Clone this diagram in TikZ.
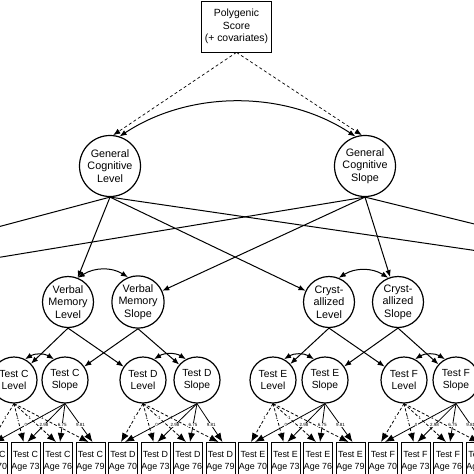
\documentclass[tikz,border=0pt]{standalone}
\usepackage{fontspec}
\setmainfont{Liberation Sans}
\usetikzlibrary{arrows.meta}
\begin{document}
\begin{tikzpicture}[x=1pt,y=-1pt,
  latA/.style={draw, circle, line width=1.2pt, minimum size=61pt, inner sep=0pt, align=center, font=\fontsize{10.8}{12.5}\selectfont},
  latB/.style={latA, minimum size=51pt},
  latC/.style={latA, minimum size=46pt, font=\fontsize{10.3}{12.5}\selectfont},
  obs/.style={draw, line width=1pt, minimum width=29pt, minimum height=38pt, inner sep=0pt, anchor=north, align=center, font=\fontsize{8.9}{11.8}\selectfont},
  scorebox/.style={draw, line width=0.8pt, minimum width=70pt, minimum height=51pt, inner sep=0pt, align=center, font=\fontsize{10.4}{12.5}\selectfont},
  ar/.style={line width=1pt, -{Latex[length=7pt,width=5.5pt]}},
  plainline/.style={line width=1pt},
  dar/.style={line width=0.7pt, dash pattern=on 3pt off 2.5pt, -{Latex[length=7pt,width=5.5pt]}},
  dbl/.style={line width=1pt, {Latex[length=7pt,width=5.5pt]}-{Latex[length=7pt,width=5.5pt]}},
  lo/.style={line width=0.8pt, dash pattern=on 3pt off 2pt, -{Latex[length=9pt,width=7pt]}},
  so/.style={line width=0.8pt, -{Latex[length=9pt,width=7pt]}},
  lab/.style={font=\fontsize{4.5}{5}\selectfont, fill=white, inner sep=0.3pt}
]
\useasboundingbox (0,0) rectangle (474,474);
\clip (0,0) rectangle (474,474);

% top
\node[scorebox] (score) at (236.5,26.5) {Polygenic\\Score\\(+ covariates)};
\node[latA] (gcl) at (110,166) {General\\Cognitive\\Level};
\node[latA] (gcs) at (365,166) {General\\Cognitive\\Slope};

% second level
\node[latB] (vml) at (68,302) {Verbal\\Memory\\Level};
\node[latB] (vms) at (138,302) {Verbal\\Memory\\Slope};
\node[latB] (cl) at (329,302) {Cryst-\\allized\\Level};
\node[latB] (cs) at (398,302) {Cryst-\\allized\\Slope};
\coordinate (offLl) at (-190,277);
\coordinate (offLs) at (-120,277);
\coordinate (offRl) at (656,277);
\coordinate (offRs) at (690,277);

% third level
\node[latC] (tcl) at (14,380) {Test C\\Level};
\node[latC] (tcs) at (65,380) {Test C\\Slope};
\node[latC] (tdl) at (143,380) {Test D\\Level};
\node[latC] (tds) at (197,380) {Test D\\Slope};
\node[latC] (tel) at (273,380) {Test E\\Level};
\node[latC] (tes) at (325,380) {Test E\\Slope};
\node[latC] (tfl) at (404,380) {Test F\\Level};
\node[latC] (tfs) at (456,380) {Test F\\Slope};

% observed boxes
\foreach \k/\t/\g in {0/C/70,1/C/73,2/C/76,3/C/79,4/D/70,5/D/73,6/D/76,7/D/79,8/E/70,9/E/73,10/E/76,11/E/79,12/F/70,13/F/73,14/F/76,15/F/79}{
  \node[obs] (b\k) at ({-7+32.5*\k},442) {Test \t\\Age \g};
}

% top paths
\draw[dar] (score.south) -- (gcl.84);
\draw[dar] (score.south) -- (gcs.96);
\draw[dbl] (gcl.72) .. controls (190,90) and (285,90) .. (gcs.108);

\draw[ar] (gcl.south) -- (vml);
\draw[ar] (gcl.south) -- (cl);
\draw[plainline] (gcl.south) -- (offLl);
\draw[plainline] (gcl.south) -- (offRl);
\draw[ar] (gcs.south) -- (vms);
\draw[ar] (gcs.south) -- (cs);
\draw[plainline] (gcs.south) -- (offLs);
\draw[plainline] (gcs.south) -- (offRs);

% second-level covariances
\draw[dbl] (vml.68) to[out=32,in=148] (vms.112);
\draw[dbl] (cl.68) to[out=32,in=148] (cs.112);

% second to third level
\draw[ar] (vml.south) -- (tcl);
\draw[ar] (vml.south) -- (tdl);
\draw[ar] (vms.south) -- (tcs);
\draw[ar] (vms.south) -- (tds);
\draw[ar] (cl.south) -- (tel);
\draw[ar] (cl.south) -- (tfl);
\draw[ar] (cs.south) -- (tes);
\draw[ar] (cs.south) -- (tfs);

% third-level covariances
\foreach \L/\S in {tcl/tcs,tdl/tds,tel/tes,tfl/tfs}{
  \draw[dbl] (\L.62) to[out=32,in=148] (\S.118);
}

% loadings
\foreach \L/\S/\a/\b/\c/\d in {tcl/tcs/b0/b1/b2/b3, tdl/tds/b4/b5/b6/b7, tel/tes/b8/b9/b10/b11, tfl/tfs/b12/b13/b14/b15}{
  \draw[lo] (\L.south) -- node[lab,pos=.38]{1} ([xshift=-2pt]\a.north);
  \draw[lo] (\L.south) -- node[lab,pos=.38]{1} ([xshift=-2pt]\b.north);
  \draw[lo] (\L.south) -- node[lab,pos=.38]{1} ([xshift=-2pt]\c.north);
  \draw[lo] (\L.south) -- node[lab,pos=.38]{1} ([xshift=-2pt]\d.north);
  \draw[so] (\S.south) -- node[lab,pos=.56]{0} ([xshift=2pt]\a.north);
  \draw[so] (\S.south) -- node[lab,pos=.56]{2.98} ([xshift=2pt]\b.north);
  \draw[so] (\S.south) -- node[lab,pos=.56]{6.75} ([xshift=2pt]\c.north);
  \draw[so] (\S.south) -- node[lab,pos=.56]{9.81} ([xshift=2pt]\d.north);
}
\end{tikzpicture}
\end{document}
